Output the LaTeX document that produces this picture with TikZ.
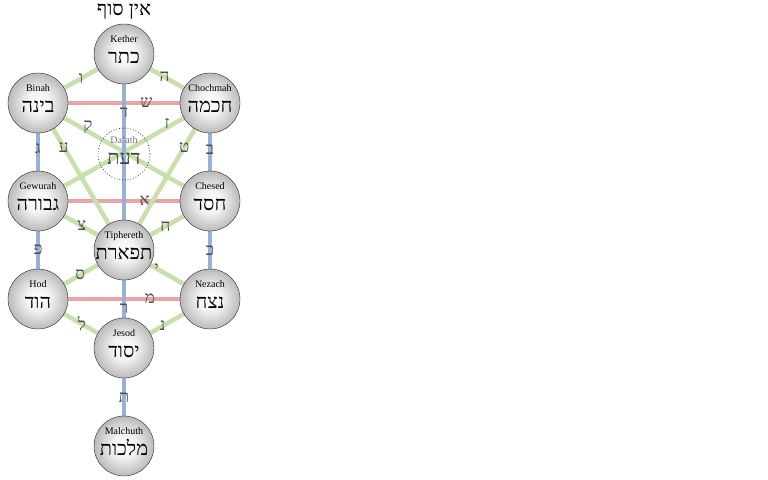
\documentclass[tikz,border=0pt]{standalone}
\usepackage{fontspec}
\setmainfont{Liberation Serif}
\newfontfamily\hebfont[Script=Hebrew]{Liberation Serif}
\TeXXeTstate=1
\usepackage{tikz}
\usetikzlibrary{positioning}
\usetikzlibrary{backgrounds}

\definecolor{pathgreen}{RGB}{200,224,172}
\definecolor{pathred}{RGB}{234,166,166}
\definecolor{pathblue}{RGB}{152,178,214}

\pgfdeclareradialshading{sefira}{\pgfpoint{0bp}{0bp}}{color(0bp)=(white); color(10bp)=(black!5); color(25bp)=(black!27); color(50bp)=(black!27)}

\newcommand{\heb}[1]{{\hebfont\fontsize{20}{20}\selectfont\beginR #1\endR}}

\begin{document}
\begin{tikzpicture}[x=1pt,y=1pt,node distance=49pt and 86pt,on grid,
	main node/.style={circle,draw=black!85,shading=sefira,minimum size=60pt,inner sep=-6pt,text depth=8pt,align=center,font=\fontsize{10}{21}\selectfont},
	daath node/.style={circle,draw=black!75,dotted,thick,minimum size=52pt,inner sep=-6pt,text depth=6pt,align=center,font=\fontsize{10}{21}\selectfont,text=black!55},
	letter/.style={font=\hebfont\fontsize{17}{17}\selectfont,text=black!70,inner sep=0pt},
	green path/.style={draw=pathgreen,line width=4.5pt},
	red path/.style={draw=pathred,line width=4.5pt},
	blue path/.style={draw=pathblue,line width=4.5pt}]

	\useasboundingbox (0,0) rectangle (768,-479);

	\node[main node] (kether) at (124,-54) {Kether\\\heb{כתר}};
	\node (title) [above=42pt of kether] {\heb{אין סוף}};
	\node[main node] (binah) [below left=of kether] {Binah\\\heb{בינה}};
	\node[main node] (chochmah) [below right=of kether] {Chochmah\\\heb{חכמה}};
	\node[daath node] (daath) [below=100pt of kether] {Da'ath\\{\color{black!75}\heb{דעת}}};
	\node[main node] (gewurah) [below=98pt of binah] {Gewurah\\\heb{גבורה}};
	\node[main node] (chesed) [below=98pt of chochmah] {Chesed\\\heb{חסד}};
	\node[main node] (tiphereth) [below=196pt of kether] {Tiphereth\\\heb{תפארת}};
	\node[main node] (hod) [below=98pt of gewurah] {Hod\\\heb{הוד}};
	\node[main node] (nezach) [below=98pt of chesed] {Nezach\\\heb{נצח}};
	\node[main node] (jesod) [below=98pt of tiphereth] {Jesod\\\heb{יסוד}};
	\node[main node] (malchuth) [below=98pt of jesod] {Malchuth\\\heb{מלכות}};

	\begin{pgfonlayer}{background}
		% horizontal paths
		\path[every node/.style={letter}]
		(binah.center)   edge[red path] node[pos=.63] {ש} (chochmah.center)
		(gewurah.center) edge[red path] node[pos=.62] {א} (chesed.center)
		(hod.center)     edge[red path] node[pos=.65] {מ} (nezach.center);
		% diagonal paths
		\path[every node/.style={letter}]
		(kether.center)   edge[green path] node[pos=.5] {ו} (binah.center)
		(kether.center)   edge[green path] node[pos=.47] {ה} (chochmah.center)
		(binah.center)    edge[green path] node[pos=.29,yshift=4pt] {ק} (chesed.center)
		(chochmah.center) edge[green path] node[pos=.25,yshift=4pt] {ז} (gewurah.center)
		(binah.center)    edge[green path] node[pos=.3] {ע} (tiphereth.center)
		(chochmah.center) edge[green path] node[pos=.3] {ט} (tiphereth.center)
		(gewurah.center)  edge[green path] node[pos=.51] {צ} (tiphereth.center)
		(chesed.center)   edge[green path] node[pos=.52] {ח} (tiphereth.center)
		(tiphereth.center) edge[green path] node[pos=.51] {ס} (hod.center)
		(tiphereth.center) edge[green path] node[pos=.38] {י} (nezach.center)
		(hod.center)      edge[green path] node[pos=.51] {ל} (jesod.center)
		(nezach.center)   edge[green path] node[pos=.55] {נ} (jesod.center);
		% vertical paths
		\path[every node/.style={letter}]
		(kether.center)    edge[blue path] node[pos=.3] {ד} (tiphereth.center)
		(binah.center)     edge[blue path] node[pos=.47] {ג} (gewurah.center)
		(chochmah.center)  edge[blue path] node[pos=.47] {ב} (chesed.center)
		(gewurah.center)   edge[blue path] node[pos=.5] {פ} (hod.center)
		(chesed.center)    edge[blue path] node[pos=.5] {כ} (nezach.center)
		(tiphereth.center) edge[blue path] node[pos=.6] {ר} (jesod.center)
		(jesod.center)     edge[blue path] node[pos=.51] {ת} (malchuth.center);
	\end{pgfonlayer}
\end{tikzpicture}
\end{document}
